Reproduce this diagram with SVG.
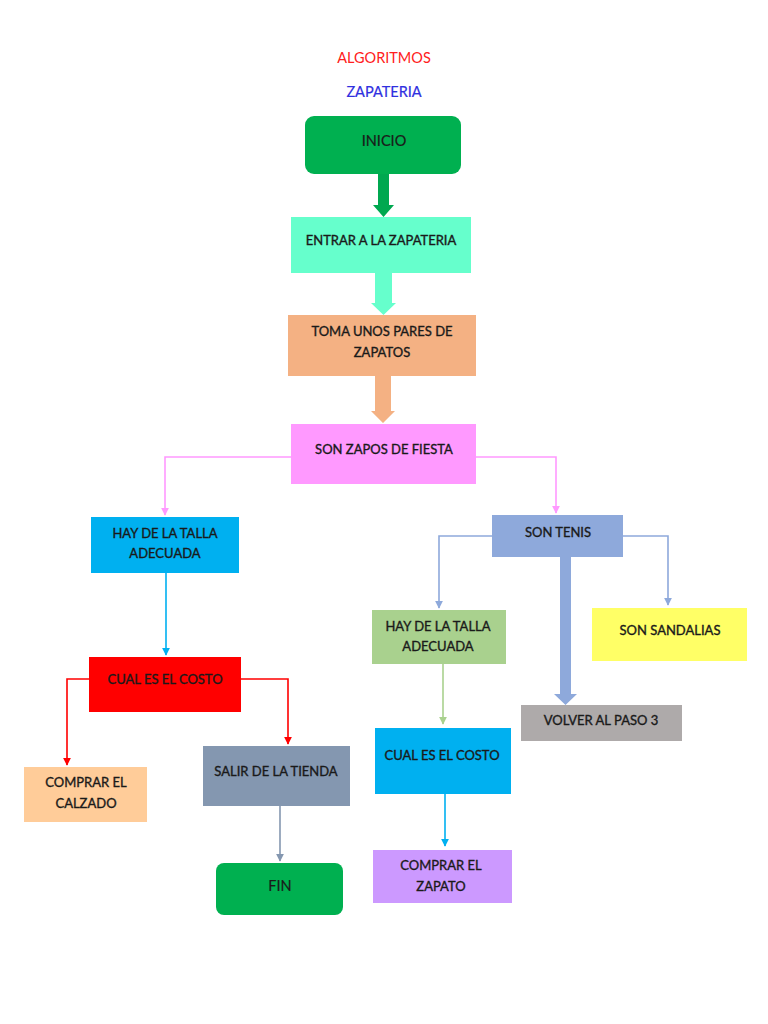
<svg xmlns="http://www.w3.org/2000/svg" width="768" height="1024" viewBox="0 0 768 1024">
<style>
text{font-family:Lato,"Liberation Sans",sans-serif;font-size:13px;fill:#1a1a1a;stroke:#1a1a1a;stroke-width:0.35;text-anchor:middle;dominant-baseline:central}
.t{font-size:14.5px;stroke-width:0.2}
.c{fill:none;stroke-width:1.6}
</style>
<defs>
<marker id="mp" viewBox="0 0 10 10" refX="9" refY="5" markerWidth="8" markerHeight="8" markerUnits="userSpaceOnUse" orient="auto"><path d="M0,0L10,5L0,10z" fill="#FF99FF"/></marker>
<marker id="mb" viewBox="0 0 10 10" refX="9" refY="5" markerWidth="8" markerHeight="8" markerUnits="userSpaceOnUse" orient="auto"><path d="M0,0L10,5L0,10z" fill="#00B0F0"/></marker>
<marker id="mr" viewBox="0 0 10 10" refX="9" refY="5" markerWidth="8" markerHeight="8" markerUnits="userSpaceOnUse" orient="auto"><path d="M0,0L10,5L0,10z" fill="#FF0000"/></marker>
<marker id="ms" viewBox="0 0 10 10" refX="9" refY="5" markerWidth="8" markerHeight="8" markerUnits="userSpaceOnUse" orient="auto"><path d="M0,0L10,5L0,10z" fill="#8497B0"/></marker>
<marker id="mt" viewBox="0 0 10 10" refX="9" refY="5" markerWidth="8" markerHeight="8" markerUnits="userSpaceOnUse" orient="auto"><path d="M0,0L10,5L0,10z" fill="#8EA9DB"/></marker>
<marker id="mg" viewBox="0 0 10 10" refX="9" refY="5" markerWidth="8" markerHeight="8" markerUnits="userSpaceOnUse" orient="auto"><path d="M0,0L10,5L0,10z" fill="#A9D18E"/></marker>
</defs>
<rect width="768" height="1024" fill="#fff"/>
<text class="t" x="384" y="57" style="fill:#FF2020;stroke:none">ALGORITMOS</text>
<text class="t" x="384" y="91" style="fill:#3030E0;stroke:#3030E0">ZAPATERIA</text>

<g id="connectors">
<path d="M378,174H389V205H394L383.5,217L373,205H378Z" fill="#00A850"/>
<path d="M375,273H392V303H396L383.5,315L371,303H375Z" fill="#66FFCC"/>
<path d="M375,376H391V411H395L383,423L371,411H375Z" fill="#F4B183"/>
<path class="c" d="M291,457H165V515" stroke="#FF99FF" marker-end="url(#mp)"/>
<path class="c" d="M476,457H556V513" stroke="#FF99FF" marker-end="url(#mp)"/>
<path class="c" d="M166,573V655" stroke="#00B0F0" marker-end="url(#mb)"/>
<path class="c" d="M89,679H67V765" stroke="#FF0000" marker-end="url(#mr)"/>
<path class="c" d="M241,679H288V744" stroke="#FF0000" marker-end="url(#mr)"/>
<path class="c" d="M280,806V861" stroke="#8497B0" marker-end="url(#ms)"/>
<path class="c" d="M492,536H439V608" stroke="#8EA9DB" marker-end="url(#mt)"/>
<path class="c" d="M623,536H668V605" stroke="#8EA9DB" marker-end="url(#mt)"/>
<path d="M560,557H571V694H577L565.5,705L554,694H560Z" fill="#8EA9DB"/>
<path class="c" d="M443,664V724" stroke="#A9D18E" marker-end="url(#mg)"/>
<path class="c" d="M445,794V846" stroke="#00B0F0" marker-end="url(#mb)"/>
</g>

<g id="inicio"><rect x="305" y="116" width="156" height="58" rx="9" fill="#00B050"/><text class="t" x="384" y="140">INICIO</text></g>
<g id="entrar"><rect x="291" y="217" width="180" height="56" fill="#66FFCC"/><text x="381" y="240">ENTRAR A LA ZAPATERIA</text></g>
<g id="toma"><rect x="288" y="315" width="188" height="61" fill="#F4B183"/><text x="382" y="331">TOMA UNOS PARES DE</text><text x="382" y="352">ZAPATOS</text></g>
<g id="fiesta"><rect x="291" y="424" width="185" height="60" fill="#FF99FF"/><text x="384" y="449">SON ZAPOS DE FIESTA</text></g>
<g id="talla1"><rect x="91" y="517" width="148" height="56" fill="#00B0F0"/><text x="165" y="533">HAY DE LA TALLA</text><text x="165" y="553">ADECUADA</text></g>
<g id="costo1"><rect x="89" y="657" width="152" height="55" fill="#FF0000"/><text x="165" y="679">CUAL ES EL COSTO</text></g>
<g id="calzado"><rect x="24" y="767" width="123" height="55" fill="#FFCC99"/><text x="86" y="782">COMPRAR EL</text><text x="86" y="803">CALZADO</text></g>
<g id="salir"><rect x="203" y="746" width="147" height="60" fill="#8497B0"/><text x="276" y="771">SALIR DE LA TIENDA</text></g>
<g id="fin"><rect x="216" y="863" width="127" height="52" rx="8" fill="#00B050"/><text class="t" x="280" y="885">FIN</text></g>
<g id="tenis"><rect x="492" y="515" width="131" height="42" fill="#8EA9DB"/><text x="558" y="532">SON TENIS</text></g>
<g id="talla2"><rect x="372" y="610" width="134" height="54" fill="#A9D18E"/><text x="438" y="626">HAY DE LA TALLA</text><text x="438" y="646">ADECUADA</text></g>
<g id="sandalias"><rect x="592" y="608" width="155" height="53" fill="#FFFF66"/><text x="670" y="630">SON SANDALIAS</text></g>
<g id="volver"><rect x="521" y="705" width="161" height="36" fill="#AEAAAA"/><text x="601" y="720">VOLVER AL PASO 3</text></g>
<g id="costo2"><rect x="375" y="728" width="136" height="66" fill="#00B0F0"/><text x="442" y="755">CUAL ES EL COSTO</text></g>
<g id="zapato"><rect x="373" y="850" width="139" height="53" fill="#CC99FF"/><text x="441" y="865">COMPRAR EL</text><text x="441" y="886">ZAPATO</text></g>
</svg>
